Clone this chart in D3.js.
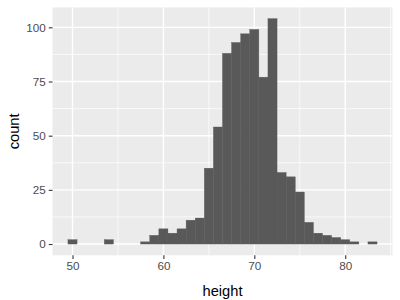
<!DOCTYPE html>
<html>
<head>
<meta charset="utf-8">
<script src="https://cdn.jsdelivr.net/npm/d3@7"></script>
<style>
  body { margin: 0; background: #fff; }
  .axis text { font-family: "Liberation Sans", Arial, sans-serif; font-size: 11.7px; fill: #4d4d4d; }
  .axis line { stroke: #333333; stroke-width: 1.1; }
  .title { font-family: "Liberation Sans", Arial, sans-serif; font-size: 14.7px; fill: #000; }
</style>
</head>
<body>
<div class="canvas"></div>
<script>
// histogram of height, binwidth 1 (bins centred on whole numbers)
var binCenters = [50, 51, 52, 53, 54, 55, 56, 57, 58, 59, 60, 61, 62, 63, 64, 65, 66,
                  67, 68, 69, 70, 71, 72, 73, 74, 75, 76, 77, 78, 79, 80, 81, 82, 83];
var counts = [2, 0, 0, 0, 2, 0, 0, 0, 1, 4, 7, 5, 7, 11, 12, 35, 54,
              88, 93, 97, 99, 77, 104, 33, 31, 24, 10, 5, 4, 3, 2, 1, 0, 1];
var xTicks = [50, 60, 70, 80];
var xMinor = [55, 65, 75, 85];
var yTicks = [0, 25, 50, 75, 100];
var yMinor = [12.5, 37.5, 62.5, 87.5];
var binWidth = 1;

var width = 400;
var height = 300;
var panel = { left: 52.5, right: 392.5, top: 7.4, bottom: 255.3 };

var data = binCenters.map(function(c, i) { return { x: c, n: counts[i] }; });

var svg = d3.select('.canvas')
  .append('svg')
  .attr('width', width)
  .attr('height', height);

// ggplot style 5% expansion on both scales
var xlo = d3.min(binCenters) - binWidth / 2;
var xhi = d3.max(binCenters) + binWidth / 2;
var xpad = (xhi - xlo) * 0.05;
var xscale = d3.scaleLinear()
  .domain([xlo - xpad, xhi + xpad])
  .range([panel.left, panel.right]);

var ymax = d3.max(counts);
var yscale = d3.scaleLinear()
  .domain([-ymax * 0.05, ymax * 1.05])
  .range([panel.bottom, panel.top]);

// panel background
svg.append('rect')
  .attr('x', panel.left)
  .attr('y', panel.top)
  .attr('width', panel.right - panel.left)
  .attr('height', panel.bottom - panel.top)
  .attr('fill', '#ebebeb');

// grid lines
svg.selectAll('.xminor').data(xMinor).enter().append('line')
  .attr('x1', function(d) { return xscale(d); })
  .attr('x2', function(d) { return xscale(d); })
  .attr('y1', panel.top).attr('y2', panel.bottom)
  .attr('stroke', '#fff').attr('stroke-width', 0.7);
svg.selectAll('.yminor').data(yMinor).enter().append('line')
  .attr('y1', function(d) { return yscale(d); })
  .attr('y2', function(d) { return yscale(d); })
  .attr('x1', panel.left).attr('x2', panel.right)
  .attr('stroke', '#fff').attr('stroke-width', 0.7);
svg.selectAll('.xmajor').data(xTicks).enter().append('line')
  .attr('x1', function(d) { return xscale(d); })
  .attr('x2', function(d) { return xscale(d); })
  .attr('y1', panel.top).attr('y2', panel.bottom)
  .attr('stroke', '#fff').attr('stroke-width', 1.4);
svg.selectAll('.ymajor').data(yTicks).enter().append('line')
  .attr('y1', function(d) { return yscale(d); })
  .attr('y2', function(d) { return yscale(d); })
  .attr('x1', panel.left).attr('x2', panel.right)
  .attr('stroke', '#fff').attr('stroke-width', 1.4);

// bars (same-colour hairline stroke hides the seams between neighbours)
svg.selectAll('.bar')
  .data(data.filter(function(d) { return d.n > 0; }))
  .enter()
  .append('rect')
  .attr('x', function(d) { return xscale(d.x - binWidth / 2); })
  .attr('width', function(d) { return xscale(d.x + binWidth / 2) - xscale(d.x - binWidth / 2); })
  .attr('y', function(d) { return yscale(d.n); })
  .attr('height', function(d) { return yscale(0) - yscale(d.n); })
  .attr('fill', '#595959')
  .attr('stroke', '#595959')
  .attr('stroke-width', 0.4);

// axes
var xaxis = d3.axisBottom(xscale).tickValues(xTicks).tickSize(3.7).tickPadding(3);
var yaxis = d3.axisLeft(yscale).tickValues(yTicks).tickSize(3.7).tickPadding(3);

svg.append('g')
  .attr('class', 'axis')
  .attr('transform', 'translate(0,' + panel.bottom + ')')
  .call(xaxis)
  .call(function(g) { g.select('.domain').remove(); });

svg.append('g')
  .attr('class', 'axis')
  .attr('transform', 'translate(' + panel.left + ',0)')
  .call(yaxis)
  .call(function(g) { g.select('.domain').remove(); });

// axis titles
svg.append('text')
  .attr('class', 'title')
  .attr('x', (panel.left + panel.right) / 2)
  .attr('y', 295.5)
  .attr('text-anchor', 'middle')
  .text('height');

svg.append('text')
  .attr('class', 'title')
  .attr('transform', 'translate(18.5,' + (panel.top + panel.bottom) / 2 + ') rotate(-90)')
  .attr('text-anchor', 'middle')
  .text('count');
</script>
</body>
</html>
